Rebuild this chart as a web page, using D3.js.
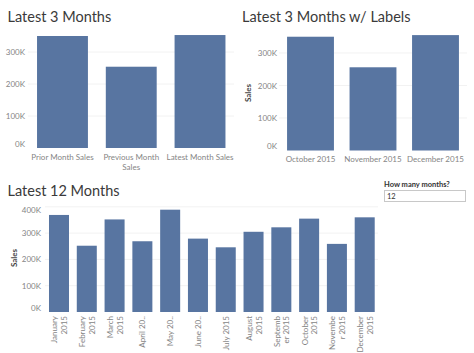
<!DOCTYPE html>
<html><head><meta charset="utf-8">
<script src="https://cdn.jsdelivr.net/npm/d3@7"></script>
<style>body{margin:0;background:#fff}svg{display:block}text{font-family:Lato,"Open Sans",sans-serif}</style>
</head><body>
<script>
// ---- data ----
const kpiCategories = ["Prior Month Sales", "Previous Month Sales", "Latest Month Sales"];
const kpiValues = [350000, 254000, 353000];
const labeledCategories = ["October 2015", "November 2015", "December 2015"];
const labeledValues = [350000, 256000, 355000];
const months = ["January 2015","February 2015","March 2015","April 2015","May 2015","June 2015","July 2015","August 2015","September 2015","October 2015","November 2015","December 2015"];
const monthLabels = [["January","2015"],["February","2015"],["March","2015"],["April 20.."],["May 20.."],["June 20.."],["July 2015"],["August","2015"],["Septemb","er 2015"],["October","2015"],["Novembe","r 2015"],["December","2015"]];
const monthValues = [369000, 252000, 352000, 269000, 389000, 279000, 246000, 305000, 322000, 355000, 259000, 360000];
const ticks3 = [0, 100000, 200000, 300000];
const ticks12 = [0, 100000, 200000, 300000, 400000];
const paramLabel = "How many months?";
const paramValue = "12";

const W = 474, H = 353;
const barColor = "#5875a1";
const tickColor = "#858585";
const fmt = v => (v/1000) + "K";

const svg = d3.select("body").append("svg").attr("width", W).attr("height", H);
svg.append("rect").attr("width", W).attr("height", H).attr("fill", "#fff");

function title(x, y, t) {
  svg.append("text").attr("x", x).attr("y", y).text(t)
    .attr("font-size", 14.5).attr("fill", "#3a3a3a");
}

function yAxis(g, y, ticks, x, lastShift) {
  const ax = g.append("g").attr("transform", `translate(${x},0)`)
    .call(d3.axisLeft(y).tickValues(ticks).tickSize(0).tickPadding(0).tickFormat(fmt));
  ax.select(".domain").remove();
  ax.selectAll("text").attr("fill", tickColor).attr("font-size", 8)
    .style("font-family", "Lato, sans-serif");
  ax.selectAll(".tick").filter(d => d === ticks[0]).select("text").attr("dy", "-0.25em");
  ax.selectAll(".tick").filter(d => d === ticks[ticks.length-1]).select("text").attr("dy", lastShift);
}

function grid(g, y, ticks, x0, x1) {
  g.append("g").selectAll("line").data(ticks.filter(t => t > 0)).join("line")
    .attr("x1", x0).attr("x2", x1).attr("y1", d => y(d)).attr("y2", d => y(d))
    .attr("stroke", "#f2f2f2").attr("stroke-width", 1);
}

function bars(g, x, y, cats, vals) {
  g.append("g").selectAll("rect").data(cats).join("rect")
    .attr("x", d => x(d)).attr("width", x.bandwidth())
    .attr("y", (d, i) => y(vals[i])).attr("height", (d, i) => y(0) - y(vals[i]))
    .attr("fill", barColor);
}

function catLabels(g, x, cats, lines, y0) {
  cats.forEach((c, i) => {
    const t = g.append("text").attr("text-anchor", "middle").attr("fill", tickColor)
      .attr("font-size", 8).attr("x", x(c) + x.bandwidth()/2).attr("y", y0);
    lines[i].forEach((l, j) => t.append("tspan").attr("x", x(c) + x.bandwidth()/2).attr("dy", j ? 10 : 0).text(l));
  });
}

function axisTitle(g, x, y, t) {
  g.append("text").attr("transform", `translate(${x},${y}) rotate(-90)`).attr("text-anchor", "middle")
    .attr("font-size", 8).attr("font-weight", "bold").attr("fill", "#444").text(t);
}

// ---- chart 1 ----
{
  const g = svg.append("g");
  title(7.5, 22, "Latest 3 Months");
  const x = d3.scaleBand().domain(kpiCategories).range([28.1, 234.4]).paddingInner(0.26).paddingOuter(0.13);
  const y = d3.scaleLinear().domain([0, 375000]).range([148, 28]);
  grid(g, y, ticks3, 28, 234);
  bars(g, x, y, kpiCategories, kpiValues);
  yAxis(g, y, ticks3, 25, "0.32em");
  catLabels(g, x, kpiCategories, [["Prior Month Sales"],["Previous Month","Sales"],["Latest Month Sales"]], 160);
}
// ---- chart 2 ----
{
  const g = svg.append("g");
  title(242, 22, "Latest 3 Months w/ Labels");
  const x = d3.scaleBand().domain(labeledCategories).range([279.25, 466.75]).paddingInner(0.25).paddingOuter(0.125);
  const y = d3.scaleLinear().domain([0, 375000]).range([150.5, 28.6]);
  grid(g, y, ticks3, 279, 467);
  bars(g, x, y, labeledCategories, labeledValues);
  yAxis(g, y, ticks3, 277, "0.32em");
  catLabels(g, x, labeledCategories, labeledCategories.map(c => [c]), 162);
  axisTitle(g, 251, 93, "Sales");
}
// ---- chart 3 ----
{
  const g = svg.append("g");
  title(7.5, 196, "Latest 12 Months");
  const x = d3.scaleBand().domain(months).range([45.1, 378.6]).paddingInner(0.28).paddingOuter(0.14);
  const y = d3.scaleLinear().domain([0, 400000]).range([312, 206.8]);
  grid(g, y, ticks12, 45, 378);
  bars(g, x, y, months, monthValues);
  yAxis(g, y, ticks12, 41, "0.7em");
  months.forEach((m, i) => {
    const cx = x(m) + x.bandwidth()/2;
    const lines = monthLabels[i];
    const t = g.append("text").attr("transform", `translate(${cx},316) rotate(-90)`)
      .attr("text-anchor", "end").attr("fill", tickColor).attr("font-size", 8);
    const off = lines.length === 2 ? -1.5 : 3;
    lines.forEach((l, j) => t.append("tspan").attr("x", 0).attr("y", off + j*9.5).text(l));
  });
  axisTitle(g, 17, 258, "Sales");
}
// ---- parameter control ----
svg.append("text").attr("x", 384).attr("y", 187).attr("font-size", 7.5).attr("font-weight", "bold")
  .attr("fill", "#333").text(paramLabel);
svg.append("rect").attr("x", 384.5).attr("y", 190.5).attr("width", 81).attr("height", 11)
  .attr("fill", "#fff").attr("stroke", "#c8c8c8");
svg.append("text").attr("x", 387).attr("y", 199).attr("font-size", 7.5).attr("fill", "#333").text(paramValue);
</script>
</body></html>
